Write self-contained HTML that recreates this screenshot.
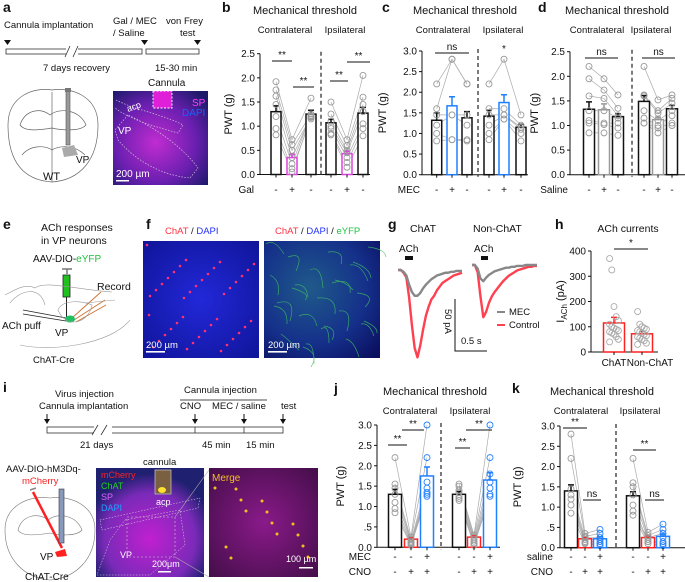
<!DOCTYPE html>
<html><head><meta charset="utf-8">
<style>
html,body{margin:0;padding:0;background:#fff;}
svg{display:block;font-family:"Liberation Sans",Arial,sans-serif;}
text{fill:#111;}
</style></head>
<body>
<svg id="fig" width="685" height="582" viewBox="0 0 685 582" xmlns="http://www.w3.org/2000/svg">
<defs>
<radialGradient id="gA" cx="0.45" cy="0.55" r="0.7"><stop offset="0" stop-color="#c02cd0"/><stop offset="0.6" stop-color="#6a1fb0"/><stop offset="1" stop-color="#1d1a6a"/></radialGradient>
<radialGradient id="gF1" cx="0.5" cy="0.5" r="0.8"><stop offset="0" stop-color="#2228d8"/><stop offset="1" stop-color="#0d1290"/></radialGradient>
<radialGradient id="gF2" cx="0.4" cy="0.4" r="0.8"><stop offset="0" stop-color="#1f5a8a"/><stop offset="0.6" stop-color="#15308a"/><stop offset="1" stop-color="#0b0f60"/></radialGradient>
<radialGradient id="gI1" cx="0.5" cy="0.65" r="0.6"><stop offset="0" stop-color="#c020d0"/><stop offset="0.7" stop-color="#7a2ab8"/><stop offset="1" stop-color="#202070"/></radialGradient>
<radialGradient id="gI2" cx="0.5" cy="0.5" r="0.8"><stop offset="0" stop-color="#8a1a8a"/><stop offset="1" stop-color="#3a0c40"/></radialGradient>
</defs>

<!-- Panel a -->
<g font-size="9.5">
<text x="3" y="12" font-size="14" font-weight="bold">a</text>
<text x="4" y="28">Cannula implantation</text>
<text x="113" y="24">Gal / MEC</text>
<text x="113" y="36">/ Saline</text>
<text x="166" y="24">von Frey</text>
<text x="180" y="36">test</text>
<path d="M4,40 h7 l-3.5,5z M141,40 h7 l-3.5,5z M194,40 h7 l-3.5,5z" fill="#111"/>
<rect x="6" y="49" width="136" height="5" fill="#fff" stroke="#333" stroke-width="0.8"/>
<rect x="66" y="47" width="12" height="9" fill="#fff"/>
<path d="M65,57 l5,-11 M73,57 l5,-11" stroke="#333" stroke-width="0.8"/>
<rect x="146" y="49" width="53" height="5" fill="#fff" stroke="#333" stroke-width="0.8"/>
<text x="43" y="71">7 days recovery</text>
<text x="155" y="71">15-30 min</text>
<text x="148" y="86" font-size="10">Cannula</text>
<g fill="none" stroke="#666" stroke-width="0.7">
<path d="M8,125 C8,95 35,87 52,90 C70,87 98,95 98,125 C98,160 80,180 52,182 C22,180 8,160 8,125z"/>
<path d="M20,125 C25,110 40,107 50,115 C60,107 80,110 86,125 C80,132 60,130 52,128 C40,130 25,132 20,125z"/>
<path d="M22,155 C30,145 45,145 52,150 C60,145 75,145 85,155"/>
<path d="M52,92 v90"/>
</g>
<rect x="66" y="90" width="4" height="55" fill="#999" stroke="#555" stroke-width="0.6"/>
<rect x="65" y="88" width="6" height="4" fill="#777"/>
<path d="M62,148 l12,-3 l4,10 l-14,2z" fill="#aaa"/>
<text x="76" y="163" font-size="10">VP</text>
<text x="43" y="180" font-size="11">WT</text>
<rect x="113" y="91" width="95" height="94" fill="url(#gA)"/>
<rect x="153" y="91" width="19" height="17" fill="#e020d8" stroke="#fff" stroke-dasharray="2,1.5" stroke-width="0.9"/>
<path d="M116,100 C135,110 165,115 183,125 L178,133 C160,128 130,120 115,108" fill="none" stroke="#ddd" stroke-dasharray="1.5,1.5" stroke-width="0.6"/>
<path d="M128,115 L115,130 L118,140 C135,160 160,175 190,178 L198,168 C185,150 160,130 128,115z" fill="none" stroke="#ddd" stroke-dasharray="1.5,1.5" stroke-width="0.6"/>
<text x="192" y="106" font-size="10" style="fill:#ff40ff">SP</text>
<text x="182" y="116" font-size="10" style="fill:#2060ff">DAPI</text>
<text x="128" y="112" font-size="9" style="fill:#fff" transform="rotate(-20 128 112)">acp</text>
<text x="118" y="134" font-size="10" style="fill:#fff">VP</text>
<text x="116" y="177" font-size="10" style="fill:#fff">200 µm</text>
<rect x="116" y="180" width="13" height="1.5" fill="#fff"/>
</g>

<!-- Panel e -->
<g font-size="10">
<text x="3" y="229" font-size="14" font-weight="bold">e</text>
<text x="41" y="231" font-size="10.5">ACh responses</text>
<text x="41" y="244" font-size="10.5">in VP neurons</text>
<text x="33" y="262">AAV-DIO-<tspan style="fill:#20c040">eYFP</tspan></text>
<path d="M62,269 h10 M67,269 v5" stroke="#777" stroke-width="1.5"/>
<rect x="63" y="275" width="7" height="22" fill="#20c020" stroke="#222" stroke-width="0.8"/>
<path d="M66.5,297 v20" stroke="#222" stroke-width="1"/>
<text x="97" y="290" font-size="10.5">Record</text>
<path d="M72,318 L101,292 M74,320 L105,300 M76,322 L106,305" stroke="#d07030" stroke-width="0.9"/>
<path d="M23,310 L66,318 M23,314 L66,321" stroke="#222" stroke-width="0.8"/>
<ellipse cx="70" cy="319" rx="5" ry="3.5" fill="#20c060"/>
<g fill="none" stroke="#999" stroke-width="0.6">
<path d="M5,295 C15,290 25,283 35,288 C45,280 80,290 112,292"/>
<path d="M10,303 C20,290 40,285 45,305"/>
<path d="M58,310 C62,300 80,300 92,305 C88,325 65,328 58,310z"/>
<path d="M20,345 C50,352 110,345 130,320"/>
<path d="M85,303 L115,300"/>
</g>
<text x="2" y="329">ACh puff</text>
<text x="55" y="336">VP</text>
<text x="33" y="363" font-size="9.5">ChAT-Cre</text>
</g>

<!-- Panel f -->
<g font-size="9.5">
<text x="146" y="229" font-size="14" font-weight="bold">f</text>
<text x="165" y="234"><tspan style="fill:#ff3040">ChAT</tspan> / <tspan style="fill:#2030ff">DAPI</tspan></text>
<text x="275" y="234"><tspan style="fill:#ff3040">ChAT</tspan> / <tspan style="fill:#2030ff">DAPI</tspan> / <tspan style="fill:#20c040">eYFP</tspan></text>
<rect x="143" y="241" width="116" height="117" fill="url(#gF1)"/>
<rect x="264" y="241" width="116" height="117" fill="url(#gF2)"/>
<g id="fdots"></g>
<g id="ffibers" stroke="#40c060" stroke-width="0.7" fill="none" opacity="0.8"></g>
<text x="146" y="348" style="fill:#fff">200 µm</text>
<rect x="146" y="351" width="19" height="1.6" fill="#fff"/>
<text x="268" y="348" style="fill:#fff">200 µm</text>
<rect x="268" y="351" width="19" height="1.6" fill="#fff"/>
</g>

<!-- Panel g -->
<g font-size="10">
<text x="388" y="229" font-size="14" font-weight="bold">g</text>
<text x="410" y="232" font-size="10.5">ChAT</text>
<text x="473" y="232" font-size="10.5">Non-ChAT</text>
<text x="399" y="252">ACh</text>
<text x="474" y="252">ACh</text>
<rect x="405" y="256" width="8" height="4" fill="#111"/>
<rect x="481" y="256" width="7" height="4" fill="#111"/>
<g id="traces"></g>
<path d="M455,299 V351 H487" fill="none" stroke="#111" stroke-width="1"/>
<text x="445" y="309" font-size="9.5" transform="rotate(90 445 309)">50 pA</text>
<text x="461" y="344" font-size="9.5">0.5  s</text>
<path d="M497,312 h8" stroke="#888" stroke-width="2"/>
<text x="509" y="315" font-size="9.5">MEC</text>
<path d="M497,325 h8" stroke="#ff4050" stroke-width="2"/>
<text x="509" y="328" font-size="9.5">Control</text>
</g>

<!-- Panel i -->
<g font-size="9.5">
<text x="3" y="392" font-size="14" font-weight="bold">i</text>
<text x="55" y="397">Virus injection</text>
<text x="39" y="409">Cannula implantation</text>
<text x="184" y="393">Cannula injection</text>
<path d="M180,400 H267" stroke="#111" stroke-width="0.8"/>
<text x="180" y="409">CNO</text>
<text x="212" y="409">MEC / saline</text>
<text x="281" y="409">test</text>
<path d="M47,414 v7 M195,414 v7 M244,414 v7 M283,414 v7" stroke="#111" stroke-width="1"/>
<path d="M44,419 h6 l-3,5z M192,419 h6 l-3,5z M241,419 h6 l-3,5z M280,419 h6 l-3,5z" fill="#111"/>
<rect x="47" y="427" width="236" height="6" fill="#fff" stroke="#333" stroke-width="0.8"/>
<path d="M195,427 v6 M244,427 v6" stroke="#333" stroke-width="0.8"/>
<rect x="94" y="425" width="18" height="10" fill="#fff"/>
<path d="M92,435 l6,-10 M101,435 l6,-10" stroke="#333" stroke-width="0.8"/>
<text x="80" y="448">21 days</text>
<text x="202" y="448">45 min</text>
<text x="246" y="448">15 min</text>
<text x="6" y="472">AAV-DIO-hM3Dq-</text>
<text x="22" y="484" style="fill:#ff2020">mCherry</text>
<g fill="none" stroke="#777" stroke-width="0.6">
<path d="M5,530 C5,505 30,495 50,498 C70,495 95,505 95,530 C95,560 75,578 50,580 C25,578 5,560 5,530z"/>
<path d="M18,530 C22,515 38,512 48,520 C58,512 76,515 82,530 C76,537 58,535 50,533 C38,535 22,537 18,530z"/>
</g>
<path d="M33,492 L62,548" stroke="#ff2020" stroke-width="2.5"/>
<path d="M30,490 l6,-2" stroke="#888" stroke-width="1.5"/>
<rect x="59" y="489" width="5" height="54" fill="#8899bb" stroke="#334" stroke-width="0.6"/>
<path d="M55,552 l10,-3 l2,7 l-10,1z" fill="#ff2020"/>
<text x="40" y="560" font-size="10">VP</text>
<text x="25" y="580" font-size="10">ChAT-Cre</text>
<text x="143" y="465">cannula</text>
<rect x="96" y="468" width="108" height="109" fill="url(#gI1)"/>
<rect x="155" y="470" width="16" height="24" fill="#7a6040" stroke="#bbb" stroke-width="0.8"/>
<ellipse cx="162" cy="490" rx="4" ry="3" fill="#ffe030"/>
<text x="101" y="478" font-size="9" style="fill:#ff2020">mCherry</text>
<text x="101" y="489" font-size="9" style="fill:#20d020">ChAT</text>
<text x="101" y="500" font-size="9" style="fill:#e060ff">SP</text>
<text x="101" y="511" font-size="9" style="fill:#20a0ff">DAPI</text>
<text x="156" y="505" font-size="9" style="fill:#fff">acp</text>
<text x="120" y="558" font-size="9" style="fill:#fff">VP</text>
<path d="M100,520 L200,498 L198,508 L102,530z M125,520 L180,510 L185,545 L150,575 L97,575 L110,540z" fill="none" stroke="#ddd" stroke-dasharray="1.5,1.5" stroke-width="0.5"/>
<rect x="127" y="517" width="48" height="40" fill="none" stroke="#ccc" stroke-dasharray="2,2" stroke-width="0.6"/>
<text x="152" y="567" font-size="9" style="fill:#fff">200μm</text>
<rect x="158" y="571" width="13" height="1.5" fill="#fff"/>
<rect x="209" y="468" width="109" height="109" fill="url(#gI2)"/>
<path d="M175,517 L209,470 M175,557 L209,577" stroke="#aaa" stroke-width="0.6"/>
<text x="212" y="481" font-size="10" style="fill:#f0c020">Merge</text>
<g id="idots"></g>
<text x="286" y="562" font-size="9" style="fill:#fff">100 µm</text>
<rect x="299" y="567" width="14" height="1.5" fill="#fff"/>
</g>

<g id="charts"></g>
</svg>

<script>
// ===== Data: panel b (Gal) =====
const bValues = [1.3, 0.35, 1.25, 1.07, 0.43, 1.27];
const bErrors = [0.12, 0.07, 0.08, 0.07, 0.05, 0.12];
const bPoints = [
  [1.92,1.75,1.62,1.45,1.2,0.95,0.82],[0.72,0.62,0.5,0.35,0.22,0.12,0.05],[1.58,1.25,1.18,1.2,1.22,1.15,1.2],
  [1.5,1.25,1.1,1.0,0.95,0.85,0.82],[0.72,0.6,0.5,0.45,0.35,0.25,0.15],[2.05,1.6,1.45,1.3,1.05,0.95,0.8]];
const bSigns = ['-','+','-','-','+','-'];
const bTicks = ['0.0','0.5','1.0','1.5','2.0','2.5'];
// ===== panel c (MEC) =====
const cValues = [1.32, 1.67, 1.38, 1.42, 1.75, 1.15];
const cErrors = [0.18, 0.22, 0.15, 0.14, 0.19, 0.07];
const cPoints = [
  [2.2,1.6,1.45,1.2,1.0,0.82],[2.8,2.8,1.45,1.45,0.85,0.85],[2.2,2.2,1.45,1.2,0.85,0.82],
  [2.2,1.6,1.45,1.2,1.0,0.85],[2.8,1.6,1.45,1.45,1.35,1.35],[1.45,1.2,1.15,1.1,1.0,0.82]];
const cSigns = ['-','+','-','-','+','-'];
const cTicks = ['0.0','0.5','1.0','1.5','2.0','2.5','3.0'];
// ===== panel d (Saline) =====
const dValues = [1.33, 1.32, 1.18, 1.49, 1.12, 1.34];
const dErrors = [0.15, 0.12, 0.06, 0.12, 0.05, 0.07];
const dPoints = [
  [2.2,1.95,1.6,1.3,1.1,1.05,0.85],[1.95,1.72,1.55,1.3,1.05,1.02,0.85],[1.62,1.35,1.2,1.15,1.05,0.95,0.8],
  [2.2,1.62,1.6,1.3,1.15,1.05,1.05],[1.52,1.3,1.25,1.1,1.0,0.95,0.85],[1.62,1.55,1.45,1.3,1.2,1.05,1.0]];
const dSigns = ['-','+','-','-','+','-'];
const dTicks = ['0.0','0.5','1.0','1.5','2.0','2.5'];
// ===== panel h (ACh currents) =====
const hCategories = ['ChAT','Non-ChAT'];
const hValues = [115, 72];
const hErrors = [22, 9];
const hPoints = [[370,325,180,140,125,110,100,95,90,85,80,75,70,60,50,40],[160,110,100,95,90,85,80,75,70,65,60,55,50,45,35,30]];
const hTicks = ['0','100','200','300','400'];
// ===== panel j (CNO + MEC) =====
const jValues = [1.3, 0.2, 1.75, 1.3, 0.25, 1.65];
const jErrors = [0.12, 0.03, 0.22, 0.07, 0.03, 0.18];
const jPoints = [
  [2.2,1.55,1.45,1.3,1.1,0.95,0.85],[0.25,0.2,0.15,0.12,0.1,0.08,0.05],[3.0,2.2,1.6,1.45,1.35,1.3,1.25],
  [1.55,1.5,1.4,1.35,1.25,1.2,1.15],[0.3,0.25,0.2,0.15,0.1,0.1,0.05],[3.0,2.2,1.8,1.6,1.45,1.3,1.25]];
const jSigns1 = ['-','-','+','-','-','+'];
const jSigns2 = ['-','+','+','-','+','+'];
const jTicks = ['0.0','.5','1.0','1.5','2.0','2.5','3.0'];
// ===== panel k (CNO + saline) =====
const kValues = [1.4, 0.22, 0.22, 1.28, 0.25, 0.28];
const kErrors = [0.15, 0.03, 0.05, 0.1, 0.03, 0.06];
const kPoints = [
  [2.8,2.2,1.45,1.3,1.2,1.05,0.85],[0.35,0.28,0.25,0.2,0.15,0.12,0.1],[0.45,0.35,0.25,0.2,0.15,0.1,0.05],
  [2.2,1.6,1.5,1.3,1.05,0.9,0.8],[0.38,0.3,0.25,0.2,0.15,0.15,0.1],[0.58,0.45,0.35,0.25,0.15,0.1,0.05]];
const kSigns1 = ['-','-','+','-','-','+'];
const kSigns2 = ['-','+','+','-','+','+'];
const kTicks = ['0.0','.5','1.0','1.5','2.0','2.5','3.0'];
// ===== panel g traces (pA, sampled over time) =====
const chatControl = [0,0,-3,-8,-30,-60,-85,-95,-82,-65,-50,-40,-32,-28,-22,-18,-14,-12,-10,-8,-6,-5,-4,-3];
const chatMEC     = [0,0,-2,-6,-16,-24,-28,-28,-25,-20,-16,-13,-10,-8,-6,-5,-4,-3,-3,-2,-2,-1,-1,-1];
const nonControl  = [0,0,-8,-35,-58,-52,-42,-35,-30,-26,-22,-18,-15,-12,-10,-8,-6,-5,-4,-3,-2,-2,-1,-1];
const nonMEC      = [0,0,-4,-15,-18,-14,-11,-9,-7,-6,-5,-4,-3,-3,-2,-2,-1,-1,-1,0,0,0,0,0];

const NS = 'http://www.w3.org/2000/svg';
const root = document.getElementById('charts');
function mk(tag, attrs, parent) {
  const e = document.createElementNS(NS, tag);
  for (const k in attrs) e.setAttribute(k, attrs[k]);
  (parent || root).appendChild(e);
  return e;
}
function txt(x, y, s, size, anchor, parent) {
  const t = mk('text', {x: x, y: y, 'font-size': size || 9.5, 'text-anchor': anchor || 'middle'}, parent);
  t.textContent = s;
  return t;
}

function chart(cfg) {
  const g = mk('g', {});
  
  
  const ymax = parseFloat(cfg.ticks[cfg.ticks.length - 1]);
  const Y = v => cfg.y0 - (v / ymax) * (cfg.y0 - cfg.yTop);
  const ax = mk('path', {d: `M${cfg.ax},${cfg.yTop} V${cfg.y0} H${cfg.axEnd}`, stroke: '#111', 'stroke-width': 1, fill: 'none'}, g);
  
  
  cfg.ticks.forEach((t, i) => {
    const v = (i / (cfg.ticks.length - 1)) * ymax;
    mk('path', {d: `M${cfg.ax - 3},${Y(v)} H${cfg.ax}`, stroke: '#111', 'stroke-width': 1}, g);
    const tl = txt(cfg.ax - 5, Y(v) + 3.5, t, 10, 'end', g);
    
    
  });
  const yl = txt(0, 0, cfg.ylabel, 11, 'middle', g);
  yl.setAttribute('transform', `translate(${cfg.ylx},${(cfg.y0 + cfg.yTop) / 2}) rotate(-90)`);
  
  
  if (cfg.ylabelSub) yl.innerHTML = 'I<tspan font-size="8" dy="3">ACh</tspan><tspan dy="-3"> (pA)</tspan>';
  if (cfg.points && cfg.pair) {
    for (let grp = 0; grp < cfg.values.length; grp += cfg.pair) {
      const n = cfg.points[grp].length;
      for (let p = 0; p < n; p++) {
        let d = '';
        for (let b = grp; b < grp + cfg.pair; b++) d += (b === grp ? 'M' : 'L') + cfg.xs[b] + ',' + Y(cfg.points[b][p]);
        mk('path', {d: d, stroke: '#aaa', 'stroke-width': 0.7, fill: 'none'}, g);
      }
    }
  }
  cfg.values.forEach((v, i) => {
    const col = cfg.colors[i];
    const bar = mk('rect', {x: cfg.xs[i] - cfg.bw / 2, y: Y(v), width: cfg.bw, height: cfg.y0 - Y(v), fill: '#fff', stroke: col, 'stroke-width': 1.5}, g);
    
    
    const e = cfg.errors[i];
    mk('path', {d: `M${cfg.xs[i]},${Y(v)} V${Y(v + e)} M${cfg.xs[i] - 3},${Y(v + e)} H${cfg.xs[i] + 3}`, stroke: col, 'stroke-width': 1.5, fill: 'none'}, g);
    (cfg.points[i] || []).forEach((p, k) => {
      const jit = cfg.jitter ? ((k % 5) - 2) * 2.2 : 0;
      const c = mk('circle', {cx: cfg.xs[i] + jit, cy: Y(p), r: 3, fill: 'none', stroke: cfg.ptColors ? cfg.ptColors[i] : '#999', 'stroke-width': 0.9}, g);
      
      
    });
    mk('path', {d: `M${cfg.xs[i]},${cfg.y0} v3`, stroke: '#111', 'stroke-width': 1}, g);
  });
  if (cfg.dash) mk('path', {d: `M${cfg.dash},${cfg.yTop - 2} V${cfg.y0 + 2}`, stroke: '#333', 'stroke-width': 1.3, 'stroke-dasharray': '4,3'}, g);
  (cfg.signRows || []).forEach(row => {
    const lab = txt(cfg.ax + (row.lx || -22), row.y, row.label, 10, 'end', g);
    
    
    row.signs.forEach((s, i) => txt(cfg.xs[i], row.y, s, 10, 'middle', g));
  });
  (cfg.sig || []).forEach(s => {
    mk('path', {d: `M${s[0]},${s[2]} H${s[1]}`, stroke: '#111', 'stroke-width': 1}, g);
    txt((s[0] + s[1]) / 2, s[2] - 3, s[3], 10, 'middle', g);
  });
  return g;
}

function titles(x, y, letter, lx, contraX, ipsiX) {
  const l = txt(lx, y - 1, letter, 14, 'start');
  l.setAttribute('font-weight', 'bold');
  
  
  const t = txt(x, y + 1, 'Mechanical threshold', 11);
  
  
  const c = txt(contraX, y + 20, 'Contralateral', 9.5);
  
  
  const ip = txt(ipsiX, y + 20, 'Ipsilateral', 9.5);
  
  
}

const K = '#111', M = '#e040e0', B = '#2080ff', G = '#999', R = '#ff2020';
titles(305, 13, 'b', 222, 285, 345);
chart({name: 'chart-b', ax: 260, axEnd: 370, y0: 174.5, yTop: 53.7, ticks: bTicks, values: bValues, errors: bErrors, points: bPoints, pair: 3,
  xs: [276, 292, 311, 331, 347, 363], bw: 10, colors: [K, M, K, K, M, K], dash: 321, ylx: 232, ylabel: 'PWT (g)',
  signRows: [{y: 193, label: 'Gal', signs: bSigns, lx: -6}],
  sig: [[272, 292, 61, '**'], [293, 314, 87, '**'], [330, 348, 81, '**'], [347, 370, 62, '**']]});
titles(465, 13, 'c', 382, 443, 503);
chart({name: 'chart-c', ax: 422, axEnd: 528, y0: 174.7, yTop: 51, ticks: cTicks, values: cValues, errors: cErrors, points: cPoints, pair: 3,
  xs: [436.7, 452, 467, 489, 504, 521], bw: 10, colors: [K, B, K, K, B, K], dash: 478, ylx: 386, ylabel: 'PWT (g)',
  signRows: [{y: 193, label: 'MEC', signs: cSigns, lx: -2}],
  sig: [[435, 469, 53, 'ns'], [504, 504, 55, '*']]});
titles(617, 13, 'd', 538, 597, 651);
chart({name: 'chart-d', ax: 570, axEnd: 685, y0: 174.7, yTop: 51.7, ticks: dTicks, values: dValues, errors: dErrors, points: dPoints, pair: 3,
  xs: [589, 604, 618, 644, 658, 672], bw: 11, colors: [K, G, K, K, G, K], dash: 632, ylx: 538, ylabel: 'PWT (g)',
  signRows: [{y: 193, label: 'Saline', signs: dSigns, lx: -2}],
  sig: [[585, 618, 58, 'ns'], [642, 675, 58, 'ns']]});

// panel h
const hl = txt(555, 229, 'h', 14, 'start');
hl.setAttribute('font-weight', 'bold');


const ht = txt(628, 232, 'ACh currents', 10.5);


chart({name: 'chart-h', ax: 591, axEnd: 658, y0: 352, yTop: 251, ticks: hTicks, values: hValues, errors: hErrors, points: hPoints,
  xs: [614, 642], bw: 21, colors: [R, R], ptColors: ['#aaa', '#aaa'], ylx: 564, ylabel: 'I (pA)', ylabelSub: true, jitter: true,
  sig: [[614, 648, 249, '*']]});
hCategories.forEach((c, i) => {
  const t = txt([614, 650][i], 366, c, 10);
  
  
});

titles(435, 394, 'j', 334, 410, 470);
chart({name: 'chart-j', ax: 377, axEnd: 500, y0: 547.3, yTop: 425, ticks: jTicks, values: jValues, errors: jErrors, points: jPoints, pair: 3,
  xs: [395, 411, 427, 459, 474, 490], bw: 13, colors: [K, R, B, K, R, B], ptColors: [G, G, B, G, G, B], dash: 441, ylx: 344, ylabel: 'PWT (g)',
  signRows: [{y: 560, label: 'MEC', signs: jSigns1, lx: -6}, {y: 575, label: 'CNO', signs: jSigns2, lx: -6}],
  sig: [[388, 407, 445, '**'], [402, 424, 430, '**'], [455, 470, 448, '**'], [466, 492, 430, '**']]});
titles(602, 394, 'k', 512, 581, 640);
chart({name: 'chart-k', ax: 560, axEnd: 685, y0: 547.7, yTop: 426, ticks: kTicks, values: kValues, errors: kErrors, points: kPoints, pair: 3,
  xs: [571, 585, 600, 633, 648, 663], bw: 13, colors: [K, R, B, K, R, B], ptColors: [G, G, B, G, G, B], dash: 616, ylx: 521, ylabel: 'PWT (g)',
  signRows: [{y: 560, label: 'saline', signs: kSigns1, lx: -7}, {y: 575, label: 'CNO', signs: kSigns2, lx: -7}],
  sig: [[563, 587, 428, '**'], [583, 601, 500, 'ns'], [633, 656, 450, '**'], [645, 664, 500, 'ns']]});

// traces
const tr = document.getElementById('traces');
function trace(arr, x0, x1, yBase, scale, color, w) {
  const step = (x1 - x0) / (arr.length - 1);
  let d = '';
  arr.forEach((v, i) => { d += (i ? 'L' : 'M') + (x0 + i * step) + ',' + (yBase - v * scale); });
  return mk('path', {d: d, stroke: color, 'stroke-width': w, fill: 'none', 'stroke-linejoin': 'round'}, tr);
}
const t1 = trace(chatControl, 398, 462, 270, 0.92, '#ff4050', 2.4);


const t2 = trace(chatMEC, 398, 462, 270, 0.92, '#888', 2.4);


const t3 = trace(nonControl, 472, 537, 265, 0.9, '#ff4050', 2.4);


const t4 = trace(nonMEC, 472, 537, 265, 0.9, '#888', 2.4);



// decorative histology details (deterministic)
const fd = document.getElementById('fdots');
for (let i = 0; i < 40; i++) {
  const x = 147 + ((i * 37) % 108), y = 245 + ((i * 53) % 108);
  mk('circle', {cx: x, cy: y, r: 1.3, fill: '#ff3070'}, fd);
}
const ff = document.getElementById('ffibers');
for (let i = 0; i < 26; i++) {
  const x = 266 + ((i * 29) % 105), y = 244 + ((i * 41) % 105);
  mk('path', {d: `M${x},${y} q${8 + (i % 5) * 3},${-6 + (i % 4) * 4} ${18 - (i % 3) * 5},${10 + (i % 6) * 2}`}, ff);
}
const idd = document.getElementById('idots');
for (let i = 0; i < 14; i++) {
  const x = 215 + ((i * 31) % 98), y = 488 + ((i * 23) % 80);
  mk('circle', {cx: x, cy: y, r: 1.5, fill: '#f0c020'}, idd);
}
</script>
</body></html>
